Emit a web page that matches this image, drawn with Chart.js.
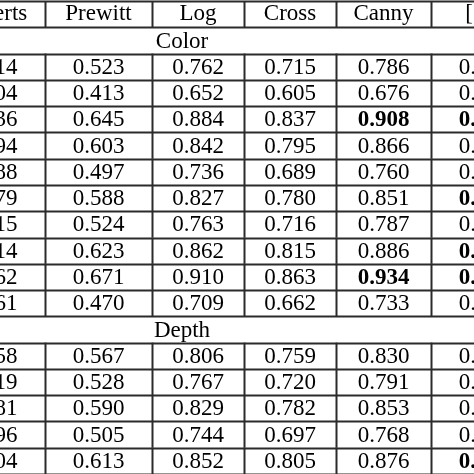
<!DOCTYPE html>
<html>
<head>
<meta charset="utf-8">
<script src="https://cdn.jsdelivr.net/npm/chart.js@4"></script>
<style>
body{margin:0;background:#fff;overflow:hidden;width:474px;height:474px;position:relative;}
#wrap{position:absolute;left:-62px;top:0;width:600px;height:474px;}
</style>
</head>
<body>
<div id="wrap"><canvas id="tabela" width="600" height="474"></canvas></div>
<script>

const metodos=["Roberts","Prewitt","Log","Cross","Canny","[30]"];

const roberts=[0.514,0.404,0.636,0.594,0.488,0.579,0.515,0.614,0.662,0.461];
const prewitt=[0.523,0.413,0.645,0.603,0.497,0.588,0.524,0.623,0.671,0.470];
const log=[0.762,0.652,0.884,0.842,0.736,0.827,0.763,0.862,0.910,0.709];
const cross=[0.715,0.605,0.837,0.795,0.689,0.780,0.716,0.815,0.863,0.662];
const canny=[0.786,0.676,0.908,0.866,0.760,0.851,0.787,0.886,0.934,0.733];
const ref30=[0.812,0.702,0.934,0.892,0.786,0.877,0.813,0.912,0.960,0.759];

const robertsD=[0.558,0.519,0.581,0.496,0.604];
const prewittD=[0.567,0.528,0.590,0.505,0.613];
const logD=[0.806,0.767,0.829,0.744,0.852];
const crossD=[0.759,0.720,0.782,0.697,0.805];
const cannyD=[0.830,0.791,0.853,0.768,0.876];
const ref30D=[0.856,0.817,0.879,0.794,0.902];

// bold cells: [linha, coluna]
const negritoCor=[[2,4],[8,4],[2,5],[5,5],[7,5],[8,5]];
const negritoProf=[[4,5]];

// layout (pixels of the canvas)
const bordasColunas=[0,107,214,306,398,493,600];

///////////////////////////////////////////////////////////////

const colunasCor=[roberts,prewitt,log,cross,canny,ref30];
const colunasProf=[robertsD,prewittD,logD,crossD,cannyD,ref30D];

const linhas=[];
linhas.push({tipo:"cab"});
linhas.push({tipo:"sec",texto:"Color"});
for(let i=0;i<roberts.length;i++){
    linhas.push({tipo:"val",vals:colunasCor.map(c=>c[i]),bold:negritoCor.filter(b=>b[0]===i).map(b=>b[1])});
}
linhas.push({tipo:"sec",texto:"Depth"});
for(let i=0;i<robertsD.length;i++){
    linhas.push({tipo:"val",vals:colunasProf.map(c=>c[i]),bold:negritoProf.filter(b=>b[0]===i).map(b=>b[1])});
}

const pontos=[];
linhas.forEach((l,r)=>{
    for(let c=0;c<metodos.length;c++){
        pontos.push({x:(bordasColunas[c]+bordasColunas[c+1])/2,y:r+0.5});
    }
});

const pluginTabela={
    id:"tabela",
    afterDraw(chart){
        const ctx=chart.ctx;
        const sx=chart.scales.x;
        const sy=chart.scales.y;
        const n=linhas.length;
        const x0=sx.getPixelForValue(bordasColunas[0]);
        const x1=sx.getPixelForValue(bordasColunas[bordasColunas.length-1]);
        ctx.save();
        ctx.strokeStyle="#2b2b2b";
        ctx.lineWidth=2;
        for(let r=0;r<=n;r++){
            const y=Math.round(sy.getPixelForValue(r))+0.5;
            ctx.beginPath();ctx.moveTo(x0,y);ctx.lineTo(x1,y);ctx.stroke();
        }
        linhas.forEach((l,r)=>{
            if(l.tipo==="sec")return;
            const ya=sy.getPixelForValue(r);
            const yb=sy.getPixelForValue(r+1);
            for(let c=1;c<bordasColunas.length-1;c++){
                const x=Math.round(sx.getPixelForValue(bordasColunas[c]))+0.5;
                ctx.beginPath();ctx.moveTo(x,ya);ctx.lineTo(x,yb);ctx.stroke();
            }
        });
        ctx.fillStyle="#000";
        ctx.textAlign="center";
        ctx.textBaseline="middle";
        linhas.forEach((l,r)=>{
            const y=sy.getPixelForValue(r+0.5)+1;
            if(l.tipo==="sec"){
                ctx.font="23px 'Liberation Serif'";
                ctx.fillText(l.texto,(x0+x1)/2-56,y);
                return;
            }
            for(let c=0;c<metodos.length;c++){
                const x=sx.getPixelForValue((bordasColunas[c]+bordasColunas[c+1])/2);
                if(l.tipo==="cab"){
                    ctx.font="23px 'Liberation Serif'";
                    ctx.fillText(metodos[c],x,y-1);
                }else{
                    ctx.font=(l.bold.includes(c)?"bold ":"")+"23px 'Liberation Serif'";
                    ctx.fillText(l.vals[c].toFixed(3),x,y);
                }
            }
        });
        ctx.restore();
    }
};

new Chart(document.getElementById("tabela").getContext("2d"),{
    type:"scatter",
    data:{datasets:[{data:pontos,pointRadius:0,pointHoverRadius:0}]},
    options:{
        responsive:false,
        animation:false,
        events:[],
        layout:{padding:0},
        plugins:{legend:{display:false},tooltip:{enabled:false}},
        scales:{
            x:{type:"linear",display:false,min:bordasColunas[0],max:bordasColunas[bordasColunas.length-1]},
            y:{type:"linear",display:false,reverse:true,min:-0.04,max:linhas.length}
        }
    },
    plugins:[pluginTabela]
});
</script>
</body>
</html>
